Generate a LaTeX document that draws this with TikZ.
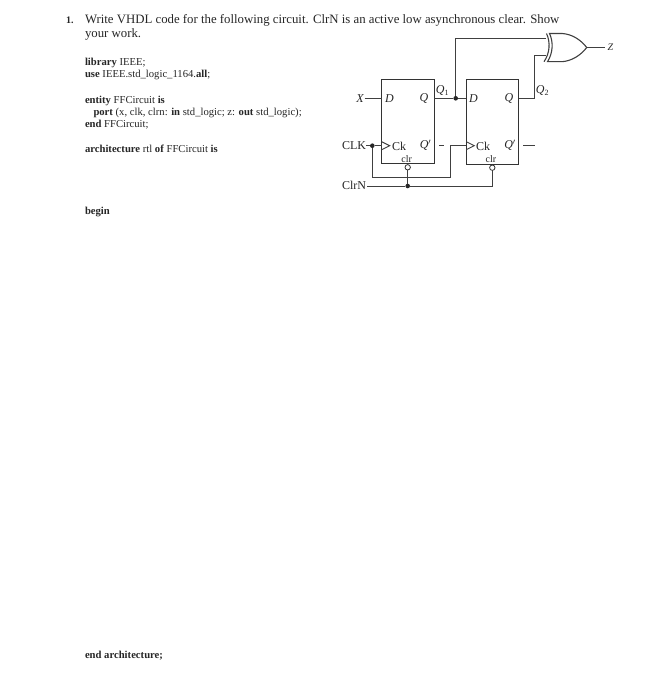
\documentclass[tikz,border=0pt]{standalone}
\usepackage{fontspec}
\setmainfont{Liberation Serif}
\usetikzlibrary{calc}
\tikzset{
  txt/.style={anchor=base west,inner sep=0pt,outer sep=0pt,text=black!85,font=\fontsize{12.8}{14}\selectfont},
  code/.style={anchor=base west,inner sep=0pt,outer sep=0pt,text=black!85,font=\fontsize{10.65}{12}\selectfont},
  lab/.style={inner sep=0pt,outer sep=0pt,text=black!85,font=\fontsize{12}{14}\selectfont},
  itlab/.style={inner sep=0pt,outer sep=0pt,text=black!85,font=\fontsize{12}{14}\selectfont\itshape},
  small/.style={inner sep=0pt,outer sep=0pt,text=black!85,font=\fontsize{10}{11}\selectfont},
  wire/.style={draw=black!75,line width=0.95pt},
  ffbox/.style={draw=black!80,line width=1pt,minimum width=52.6pt,minimum height=84.7pt,inner sep=0pt,outer sep=0pt},
  jdot/.style={circle,fill=black!85,minimum size=4.6pt,inner sep=0pt,outer sep=0pt},
  bubble/.style={circle,draw=black!80,fill=white,line width=0.8pt,minimum size=5.4pt,inner sep=0pt,outer sep=0pt}
}
\begin{document}
\begin{tikzpicture}[x=1pt,y=-1pt]
\useasboundingbox (0,0) rectangle (657,700);
\fill[white] (0,0) rectangle (657,700);
% text
\node[code,font=\fontsize{10}{11}\selectfont\bfseries] (num) at (66,23.7) {1.};
\node[txt] (l1) at (85,23.7) {Write VHDL code for the following circuit. ClrN is an active low asynchronous clear. Show};
\node[txt] (l2) at (85,38) {your work.};
\node[code] (c1) at (85,65.7) {\textbf{library} IEEE;};
\node[code] (c2) at (85,77.8) {\textbf{use} IEEE.std\_logic\_1164.\textbf{all};};
\node[code] (c3) at (85,103.2) {\textbf{entity} FFCircuit \textbf{is}};
\node[code] (c4) at (93.5,115.7) {\textbf{port} (x, clk, clrn: \textbf{in} std\_logic; z: \textbf{out} std\_logic);};
\node[code] (c5) at (85,127.8) {\textbf{end} FFCircuit;};
\node[code] (c6) at (85,152.7) {\textbf{architecture} rtl \textbf{of} FFCircuit \textbf{is}};
\node[code] (c7) at (85,214.2) {\textbf{begin}};
\node[code] (c8) at (85,658.2) {\textbf{end architecture;}};
% flip-flops
\node[ffbox] (ff1) at (408,121.4) {};
\node[ffbox] (ff2) at (492.5,121.8) {};
% pins
\coordinate (d1) at (ff1.west |- 0,98.3);
\coordinate (q1) at (ff1.east |- 0,98.3);
\coordinate (ck1) at (ff1.west |- 0,145.7);
\coordinate (d2) at (ff2.west |- 0,98.3);
\coordinate (q2) at (ff2.east |- 0,98.3);
\coordinate (ck2) at (ff2.west |- 0,145.7);
\coordinate (qn1s) at (439.3,145.7);
\coordinate (qn1e) at (444,145.7);
\coordinate (qn2s) at (523,145.7);
\coordinate (qn2e) at (534.5,145.7);
\node[bubble] (b1) at (407.7,167.3) {};
\node[bubble] (b2) at (492.3,167.7) {};
\node[jdot] (jq) at (455.7,98.3) {};
\node[jdot] (jclk) at (372.3,145.7) {};
\node[jdot] (jclr) at (407.7,186) {};
\coordinate (xin1) at (546,38.5);
\coordinate (xin2) at (546,55.3);
\coordinate (xout) at (586.7,47.5);
\coordinate (zend) at (605,47.5);
\coordinate (clrnw) at (367,186);
\coordinate (clrc) at (492.3,186);
% labels
\node[itlab] (x) at (360,98.3) {X};
\node[lab,anchor=east] (clk) at (366,145.7) {CLK};
\node[lab,anchor=east] (clrn) at (366,185) {ClrN};
\node[itlab] (ld1) at (389.5,98.8) {D};
\node[itlab] (lq1) at (424,99) {Q};
\node[itlab] (lqn1) at (425.5,145.5) {Q$'$};
\node[lab] (lck1) at (399,146) {Ck};
\node[small] (lclr1) at (406.7,158.7) {clr};
\node[itlab] (ld2) at (473.5,98.8) {D};
\node[itlab] (lq2) at (509,99) {Q};
\node[itlab] (lqn2) at (510,145.5) {Q$'$};
\node[lab] (lck2) at (483,146) {Ck};
\node[small] (lclr2) at (491,158.7) {clr};
\node[itlab] (lq1o) at (442.5,91) {Q\textsubscript{\fontsize{8}{9}\selectfont\upshape 1}};
\node[itlab] (lq2o) at (542.5,91) {Q\textsubscript{\fontsize{8}{9}\selectfont\upshape 2}};
\node[itlab,font=\fontsize{10}{12}\selectfont\itshape] (z) at (610.5,47.5) {Z};
% connectors
\draw[wire] (x.east) ++(1,0) -- (d1);
\draw[wire] (q1) -- (jq) -- (d2);
\draw[wire] (jq) |- (xin1);
\draw[wire] (q2) -- (534.5,98.3) |- (xin2);
\draw[wire] (clk.east) -- (jclk) -- (ck1);
\draw[wire] (jclk) |- (450,177) |- (ck2);
\draw[wire] (clrnw) -- (jclr);
\draw[wire] (jclr) -- (clrc) -- (b2);
\draw[wire] (jclr) -- (b1);
\draw[wire] (qn1s) -- (qn1e);
\draw[wire] (qn2s) -- (qn2e);
\draw[wire] (xout) -- (zend);
% clock chevrons
\draw[wire] (ck1) ++(0,-4) -- ++(8,4) -- ++(-8,4);
\draw[wire] (ck2) ++(0,-4) -- ++(8,4) -- ++(-8,4);
% XOR gate
\draw[wire,line width=1.1pt,fill=white] (549.5,33.5) .. controls (553.5,42) and (553,53) .. (547.5,61.7)
  -- (562,61.7) .. controls (572,61) and (581,55) .. (586.7,47.5)
  .. controls (581,40) and (572,34) .. (562,33.5) -- cycle;
\draw[wire,line width=1.1pt] (546.5,33.5) .. controls (550.5,42) and (550,53) .. (544,61.7);
\end{tikzpicture}
\end{document}
